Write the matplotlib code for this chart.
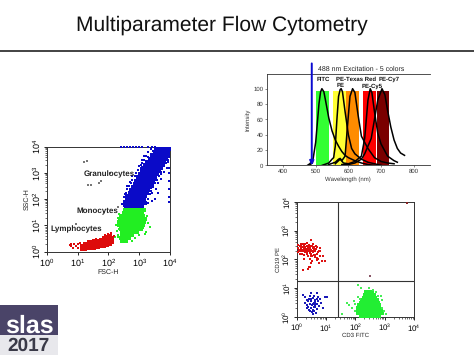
import matplotlib
matplotlib.use("Agg")
import matplotlib.pyplot as plt
from matplotlib.patches import Rectangle

FIG_W = 474
FIG_H = 355

plt.rcParams["font.family"] = ["Liberation Sans", "DejaVu Sans"]
plt.rcParams["mathtext.fontset"] = "custom"
plt.rcParams["mathtext.rm"] = "Liberation Sans"
plt.rcParams["text.hinting"] = "none"
plt.rcParams["text.hinting_factor"] = 1

# scatter values are log10 positions
gran_rows = [
    (1.75, [2.56, 2.68, 2.79, 2.9, 3.0, 3.1]),
    (1.87, [2.55, 2.66, 2.78, 2.88, 2.99, 3.1, 3.19]),
    (1.99, [2.62, 2.73, 2.85, 2.96, 3.07, 3.17]),
    (2.11, [2.62, 2.74, 2.86, 2.97, 3.08, 3.2]),
    (2.23, [2.7, 2.8, 2.92, 3.03, 3.14, 3.25]),
    (2.35, [2.74, 2.86, 2.97, 3.09, 3.2, 3.3]),
    (2.47, [2.8, 2.92, 3.03, 3.14, 3.25, 3.36]),
    (2.59, [2.85, 2.97, 3.08, 3.19, 3.3, 3.41]),
    (2.71, [2.9, 3.02, 3.13, 3.24, 3.35, 3.46]),
    (2.83, [2.97, 3.08, 3.19, 3.3, 3.41, 3.52]),
    (2.95, [3.03, 3.14, 3.25, 3.36, 3.47, 3.58]),
    (3.07, [3.08, 3.2, 3.31, 3.42, 3.53, 3.63]),
    (3.19, [3.14, 3.26, 3.37, 3.48, 3.59, 3.7]),
    (3.31, [3.2, 3.32, 3.43, 3.54, 3.65, 3.76]),
    (3.43, [3.26, 3.38, 3.49, 3.6, 3.71, 3.82]),
    (3.55, [3.35, 3.46, 3.57, 3.68, 3.79, 3.88]),
    (3.67, [3.42, 3.53, 3.64, 3.75, 3.86, 3.93]),
    (3.79, [3.5, 3.62, 3.73, 3.84, 3.94]),
    (3.91, [3.55, 3.68, 3.79, 3.88, 3.96]),
]
gran_edge_x = [2.45, 2.5, 2.52, 2.58, 2.62, 2.68, 2.72, 2.78, 2.85, 2.9, 2.95, 3.0, 3.08, 3.15, 3.22, 3.3, 3.38, 3.45,
               3.28, 3.05, 2.58, 2.5,
               3.28, 3.3, 3.34, 3.38, 3.45, 3.52, 3.58, 3.65, 3.72, 3.75, 3.82, 3.86, 3.92, 3.96, 3.98,
               3.42, 3.62, 3.7, 3.8, 3.9]
gran_edge_y = [1.8, 1.95, 2.1, 2.25, 2.38, 2.5, 2.62, 2.75, 2.88, 3.0, 3.12, 3.25, 3.38, 3.5, 3.65, 3.78, 3.9, 3.85,
               3.6, 3.3, 2.05, 1.75,
               1.85, 2.02, 2.2, 2.32, 2.45, 2.6, 2.72, 2.88, 3.02, 3.15, 3.25, 3.38, 3.5, 3.62, 3.78,
               2.25, 2.6, 2.78, 3.05, 3.2]
gran_extra_x = [2.55, 2.62, 2.7, 2.78, 3.55, 3.6, 3.5, 3.4, 3.55, 3.7, 3.95, 3.1, 3.05, 2.9, 3.15,
                2.4, 2.5, 2.6, 2.7, 2.8, 2.9, 3.0, 3.1, 3.3, 3.4, 3.5,
                3.98, 3.98, 3.98, 3.98, 3.98, 3.98]
gran_extra_y = [2.2, 2.5, 2.65, 2.9, 2.4, 2.25, 2.0, 1.95, 2.75, 2.95, 3.4, 3.5, 3.2, 3.0, 3.65,
                3.98, 3.98, 3.98, 3.98, 3.98, 3.98, 3.98, 3.98, 3.98, 3.98, 3.98,
                3.2, 3.0, 2.7, 2.4, 2.1, 1.9]

mono_rows = [
    (1.6, [2.55, 2.67, 2.8, 2.92, 3.04, 3.15]),
    (1.48, [2.5, 2.62, 2.74, 2.86, 2.98, 3.1]),
    (1.36, [2.42, 2.54, 2.66, 2.78, 2.9, 3.02, 3.14]),
    (1.24, [2.38, 2.5, 2.62, 2.74, 2.86, 2.98, 3.1, 3.2]),
    (1.12, [2.34, 2.46, 2.58, 2.7, 2.82, 2.94, 3.06, 3.16]),
    (1.0, [2.34, 2.46, 2.58, 2.7, 2.82, 2.94, 3.06, 3.14]),
    (0.88, [2.42, 2.54, 2.66, 2.78, 2.9, 3.02]),
    (0.76, [2.44, 2.56, 2.68, 2.8, 2.92]),
    (0.64, [2.44, 2.56, 2.68, 2.78]),
    (0.52, [2.42, 2.54, 2.66]),
    (0.42, [2.44, 2.56]),
]
mono_extra_x = [2.25, 2.28, 3.3, 3.35, 3.25, 3.22, 2.3, 2.32, 2.78, 3.0, 2.2, 2.36, 2.3, 2.34, 3.08, 3.12, 3.18, 2.86]
mono_extra_y = [1.0, 0.8, 1.1, 0.95, 1.35, 0.75, 0.62, 0.55, 0.42, 0.62, 0.55, 1.42, 1.28, 0.86, 0.82, 0.9, 0.68, 0.54]

lymph_columns = [
    (1.15, [0.12, 0.22]),
    (1.25, [0.12, 0.2, 0.28]),
    (1.35, [0.14, 0.22, 0.3]),
    (1.45, [0.14, 0.22, 0.3, 0.36]),
    (1.55, [0.16, 0.24, 0.32, 0.4]),
    (1.65, [0.18, 0.26, 0.34, 0.42]),
    (1.75, [0.2, 0.28, 0.36, 0.44]),
    (1.85, [0.22, 0.3, 0.38, 0.46, 0.52]),
    (1.95, [0.26, 0.34, 0.42, 0.5, 0.56]),
    (2.05, [0.3, 0.38, 0.46, 0.54, 0.6]),
    (2.13, [0.36, 0.44, 0.52]),
]
lymph_extra_x = [0.78, 0.8, 0.85, 0.9, 0.95, 1.0, 1.02, 1.08, 1.1, 1.35, 1.6, 1.9, 2.0, 2.1, 2.18, 0.75]
lymph_extra_y = [0.2, 0.28, 0.15, 0.3, 0.22, 0.3, 0.15, 0.34, 0.1, 0.42, 0.5, 0.62, 0.68, 0.72, 0.6, 0.24]

stray_x = [1.2, 1.3, 1.35, 1.45, 1.7, 1.75, 1.85, 0.95, 2.3, 2.05]
stray_y = [3.4, 3.45, 2.55, 2.55, 2.6, 2.7, 1.5, 1.05, 1.7, 3.0]

# CD3 / CD19 plot
cd19_x = [0.05, 0.1, 0.12, 0.15, 0.18, 0.2, 0.22, 0.25, 0.28, 0.3, 0.32, 0.34, 0.36, 0.38, 0.4, 0.42, 0.44,
          0.46, 0.48, 0.5, 0.52, 0.54, 0.56, 0.58, 0.6, 0.62, 0.64, 0.66, 0.68, 0.7, 0.72, 0.75, 0.78, 0.8,
          0.04, 0.08, 0.14, 0.2, 0.26, 0.3, 0.36, 0.4, 0.46, 0.5, 0.55, 0.6, 0.66, 0.72, 0.8, 0.9,
          0.06, 0.12, 0.18, 0.24, 0.3, 0.34, 0.42, 0.48, 0.52, 0.58, 0.64, 0.7, 0.25, 0.38, 0.44, 0.52,
          0.48, 0.68, 0.77, 0.85, 0.95, 0.42, 0.2, 0.38, 0.47, 0.5,
          0.1, 0.16, 0.22, 0.28, 0.34, 0.4, 0.46, 0.52, 0.58, 0.16, 0.24, 0.32, 0.44, 0.56]
cd19_y = [2.4, 2.48, 2.3, 2.52, 2.2, 2.42, 2.34, 2.5, 2.26, 2.44, 2.36, 2.56, 2.18, 2.4, 2.3, 2.5, 2.22,
          2.42, 2.12, 2.34, 2.46, 2.26, 2.38, 2.16, 2.44, 2.28, 2.08, 2.36, 2.2, 2.42, 2.02, 2.3, 2.12, 2.4,
          2.24, 2.34, 2.42, 2.54, 2.36, 2.3, 2.48, 2.42, 2.3, 2.18, 2.52, 2.34, 2.46, 2.24, 2.28, 2.1,
          2.5, 2.2, 2.3, 2.16, 2.54, 2.22, 2.36, 2.48, 2.1, 2.3, 2.16, 2.04, 2.02, 2.1, 2.02, 1.96,
          1.86, 1.98, 1.88, 1.96, 1.94, 1.72, 1.62, 1.66, 1.72, 2.66,
          2.28, 2.36, 2.28, 2.42, 2.3, 2.36, 2.38, 2.28, 2.36, 2.46, 2.42, 2.36, 2.44, 2.42]
cd4_x = [0.22, 0.28, 0.3, 0.34, 0.36, 0.38, 0.4, 0.42, 0.44, 0.46, 0.48, 0.5, 0.52, 0.54, 0.56, 0.58, 0.6,
         0.62, 0.64, 0.66, 0.68, 0.7, 0.72, 0.74, 0.76, 0.8, 0.84, 0.88, 0.96, 1.05, 0.45, 0.52, 0.6, 0.66,
         0.36, 0.42, 0.5, 0.56, 0.62, 0.7, 0.48, 0.58, 0.68, 0.54, 0.62]
cd4_y = [0.78, 0.7, 0.5, 0.6, 0.42, 0.54, 0.36, 0.62, 0.46, 0.72, 0.3, 0.56, 0.4, 0.66, 0.24, 0.5, 0.74,
         0.34, 0.6, 0.44, 0.82, 0.28, 0.54, 0.7, 0.38, 0.62, 0.48, 0.3, 0.7, 0.68, 0.2, 0.18, 0.22, 0.14,
         0.3, 0.26, 0.84, 0.44, 0.52, 0.46, 0.64, 0.34, 0.62, 0.12, 0.42]
cd3_rows = [
    (0.05, [2.2, 2.3, 2.4, 2.5, 2.6, 2.7, 2.8]),
    (0.13, [2.1, 2.2, 2.3, 2.4, 2.5, 2.6, 2.7, 2.8, 2.9]),
    (0.22, [2.08, 2.18, 2.28, 2.38, 2.48, 2.58, 2.68, 2.78, 2.88]),
    (0.31, [2.1, 2.2, 2.3, 2.4, 2.5, 2.6, 2.7, 2.8]),
    (0.4, [2.12, 2.22, 2.32, 2.42, 2.52, 2.62, 2.72, 2.82]),
    (0.49, [2.18, 2.28, 2.38, 2.48, 2.58, 2.68, 2.78]),
    (0.58, [2.24, 2.34, 2.44, 2.54, 2.64, 2.74]),
    (0.67, [2.28, 2.38, 2.48, 2.58, 2.68]),
    (0.76, [2.32, 2.42, 2.52, 2.62]),
    (0.85, [2.36, 2.46, 2.56]),
]
cd3_extra_x = [1.53, 1.7, 1.8, 1.88, 1.95, 2.0, 1.98, 2.92, 2.98, 3.05, 2.9, 2.86, 2.1, 2.16, 2.7, 2.78, 2.2, 2.08, 2.45, 2.6]
cd3_extra_y = [0.12, 0.5, 0.42, 0.3, 0.55, 0.44, 0.2, 0.3, 0.2, 0.1, 0.6, 0.72, 0.7, 0.62, 0.85, 0.72, 1.02, 1.1, 1.02, 0.95]
corner_x = [3.75]
corner_y = [3.97]
middle_x = [2.5]
middle_y = [1.42]

gate_x = 1.42
gate_y = 1.26

# emission spectra
bar_left = [502, 553, 592, 645, 687]
bar_right = [541, 592, 633, 684, 725]
bar_top = 97
bar_colors = ["#33ff33", "#ffff33", "#ff8c00", "#ff0000", "#7a0000"]

fitc_nm = [480, 490, 500, 505, 510, 515, 519, 525, 530, 540, 550, 560, 570, 580, 590, 600, 620, 640, 660, 680]
fitc_int = [0, 3, 30, 55, 80, 96, 100, 96, 85, 62, 45, 33, 25, 18, 13, 10, 6, 3, 1, 0]
pe_nm = [520, 540, 550, 555, 560, 565, 570, 575, 578, 582, 590, 600, 610, 620, 640, 660, 680, 700]
pe_int = [0, 3, 8, 10, 25, 60, 90, 99, 100, 96, 70, 40, 22, 15, 8, 4, 2, 0]
texas_nm = [540, 560, 570, 575, 580, 590, 600, 605, 613, 620, 630, 640, 650, 660, 680, 700, 720, 740]
texas_int = [1, 4, 8, 9, 6, 12, 65, 90, 100, 95, 65, 38, 30, 22, 10, 5, 3, 2]
cy5_nm = [560, 575, 585, 600, 620, 640, 650, 655, 660, 667, 672, 680, 690, 700, 720, 740, 750]
cy5_int = [2, 8, 3, 2, 5, 12, 35, 60, 85, 100, 95, 70, 42, 28, 12, 6, 4]
cy7_nm = [580, 600, 620, 640, 650, 660, 670, 680, 690, 703, 712, 720, 730, 740, 750, 760, 772]
cy7_int = [1, 1, 3, 8, 15, 25, 35, 60, 85, 100, 92, 72, 50, 33, 22, 16, 13]
excite_nm = [475, 482, 490]
excite_int = [0, 2, 6]
laser_nm = 488

wave_ticks = [400, 500, 600, 700, 800]
int_ticks = [0, 20, 40, 60, 80, 100]
log_ticks = [1, 10, 100, 1000, 10000]
log_labels = ["$10^{0}$", "$10^{1}$", "$10^{2}$", "$10^{3}$", "$10^{4}$"]


def px_axes(fig, left, top, right, bottom):
    return fig.add_axes([left / FIG_W, 1 - bottom / FIG_H, (right - left) / FIG_W, (bottom - top) / FIG_H])


def fig_text(fig, x, y, text, **kwargs):
    fig.text(x / FIG_W, 1 - y / FIG_H, text, **kwargs)


def flatten_rows(rows):
    xs, ys = [], []
    for y, row in rows:
        xs += row
        ys += [y] * len(row)
    return xs, ys


def flatten_columns(columns):
    xs, ys = [], []
    for x, column in columns:
        xs += [x] * len(column)
        ys += column
    return xs, ys


def draw_points(ax, xs, ys, color, size):
    ax.scatter([10**v for v in xs], [10**v for v in ys], s=size, c=color, marker="s", linewidths=0,
               clip_on=False, zorder=3)


def style_log_axes(ax, xlabel, ylabel, labelsize, fontsize):
    ax.set_xscale("log")
    ax.set_yscale("log")
    ax.set_xlim(1, 10000)
    ax.set_ylim(1, 10000)
    ax.set_xticks(log_ticks, log_labels)
    ax.set_yticks(log_ticks, log_labels)
    ax.tick_params(axis="both", which="major", labelsize=labelsize, length=2.5, width=0.6, pad=1)
    ax.tick_params(axis="both", which="minor", length=1.3, width=0.4)
    ax.tick_params(axis="y", labelrotation=90)
    for label in ax.get_yticklabels():
        label.set_va("center")
    ax.set_xlabel(xlabel, fontsize=fontsize, labelpad=0, color="#222222")
    ax.set_ylabel(ylabel, fontsize=fontsize, labelpad=0, color="#222222")
    for spine in ax.spines.values():
        spine.set_linewidth(0.7)
        spine.set_color("#333333")


fig = plt.figure(figsize=(FIG_W / 100, FIG_H / 100), dpi=100, facecolor="white")

# heading and logo
fig_text(fig, 76, 25, "Multiparameter Flow Cytometry", fontsize=15, color="#111111", ha="left", va="center")
fig.add_artist(plt.Line2D([0, 1], [1 - 51 / FIG_H, 1 - 51 / FIG_H], color="#222222", linewidth=1.2))
fig.add_artist(Rectangle((0, 0), 58 / FIG_W, 50 / FIG_H, transform=fig.transFigure, facecolor="#4a4468", edgecolor="none"))
fig.add_artist(Rectangle((0, 0), 58 / FIG_W, 20 / FIG_H, transform=fig.transFigure, facecolor="#e8e8ec", edgecolor="none"))
fig_text(fig, 5, 333, "slas", fontsize=18, fontweight="bold", color="white", ha="left", va="baseline", zorder=5)
fig_text(fig, 7, 351, "2017", fontsize=13.5, fontweight="bold", color="#3a3a48", ha="left", va="baseline", zorder=5)

# side scatter plot
ax_ssc = px_axes(fig, 46.7, 146.7, 170, 251.7)
style_log_axes(ax_ssc, "FSC-H", "SSC-H", 6.5, 5)
draw_points(ax_ssc, stray_x, stray_y, "#777777", 1)
gran_x, gran_y = flatten_rows(gran_rows)
draw_points(ax_ssc, gran_x, gran_y, "#0a0ac8", 9)
draw_points(ax_ssc, gran_edge_x, gran_edge_y, "#0a0ac8", 4.5)
draw_points(ax_ssc, gran_extra_x, gran_extra_y, "#0a0ac8", 2.5)
mono_x, mono_y = flatten_rows(mono_rows)
draw_points(ax_ssc, mono_x, mono_y, "#22ee22", 9)
draw_points(ax_ssc, mono_extra_x, mono_extra_y, "#22ee22", 3)
lymph_x, lymph_y = flatten_columns(lymph_columns)
draw_points(ax_ssc, lymph_x, lymph_y, "#dd0b0b", 8)
draw_points(ax_ssc, lymph_extra_x, lymph_extra_y, "#dd0b0b", 3)
fig_text(fig, 84, 174, "Granulocytes", fontsize=5.8, fontweight="bold", color="#222222", ha="left", va="center", zorder=6)
fig_text(fig, 76.7, 211.7, "Monocytes", fontsize=5.8, fontweight="bold", color="#222222", ha="left", va="center", zorder=6)
fig_text(fig, 50, 229.7, "Lymphocytes", fontsize=5.8, fontweight="bold", color="#222222", ha="left", va="center", zorder=6)

# quadrant plot
ax_cd = px_axes(fig, 296.7, 201.7, 414, 317)
style_log_axes(ax_cd, "CD3 FITC", "CD19 PE", 5.5, 4.2)
ax_cd.axvline(10**gate_x, color="#333333", linewidth=0.8)
ax_cd.axhline(10**gate_y, color="#333333", linewidth=0.8)
draw_points(ax_cd, cd19_x, cd19_y, "#dd1111", 3.2)
draw_points(ax_cd, cd4_x, cd4_y, "#1a1ab8", 2.2)
cd3_x, cd3_y = flatten_rows(cd3_rows)
draw_points(ax_cd, cd3_x, cd3_y, "#22ee33", 9)
draw_points(ax_cd, cd3_extra_x, cd3_extra_y, "#44ee55", 2.5)
draw_points(ax_cd, corner_x, corner_y, "#882222", 2)
draw_points(ax_cd, middle_x, middle_y, "#885566", 2)

# emission spectra plot
ax_sp = px_axes(fig, 266.7, 74.3, 430, 165.3)
ax_sp.set_xlim(350, 850)
ax_sp.set_ylim(0, 118.8)
ax_sp.bar(bar_left, bar_top, width=[r - l for l, r in zip(bar_left, bar_right)], align="edge", color=bar_colors, zorder=1)
for nm, intensity in [(fitc_nm, fitc_int), (pe_nm, pe_int), (texas_nm, texas_int), (cy5_nm, cy5_int), (cy7_nm, cy7_int), (excite_nm, excite_int)]:
    ax_sp.plot(nm, intensity, color="black", linewidth=1.1, zorder=2)
ax_sp.annotate("", xy=(laser_nm, 0), xytext=(laser_nm, 133), annotation_clip=False, zorder=4,
               arrowprops={"arrowstyle": "-|>", "color": "#0a0ad0", "linewidth": 1.4, "mutation_scale": 6, "shrinkA": 0, "shrinkB": 0})
ax_sp.set_xticks(wave_ticks)
ax_sp.set_yticks(int_ticks)
ax_sp.tick_params(axis="both", labelsize=4, length=1.5, width=0.4, pad=1, colors="#333333")
ax_sp.set_xlabel("Wavelength (nm)", fontsize=4.5, labelpad=1.5, color="#333333")
ax_sp.set_ylabel("Intensity", fontsize=4.5, labelpad=2, color="#333333")
ax_sp.spines["right"].set_visible(False)
for name in ("top", "left", "bottom"):
    ax_sp.spines[name].set_linewidth(0.6)
    ax_sp.spines[name].set_color("#333333")
fig_text(fig, 317.7, 68.7, "488 nm Excitation - 5 colors", fontsize=5.4, color="#222222", ha="left", va="center")
fig_text(fig, 317, 79.5, "FITC", fontsize=4.2, fontweight="bold", color="#111111", ha="left", va="center")
fig_text(fig, 336, 79.5, "PE-Texas Red", fontsize=4.2, fontweight="bold", color="#111111", ha="left", va="center")
fig_text(fig, 337, 85.7, "PE", fontsize=4.2, fontweight="bold", color="#111111", ha="left", va="center")
fig_text(fig, 361.3, 86.7, "PE-Cy5", fontsize=4.2, fontweight="bold", color="#111111", ha="left", va="center")
fig_text(fig, 378.3, 79.5, "PE-Cy7", fontsize=4.2, fontweight="bold", color="#111111", ha="left", va="center")

fig.savefig("out.png", dpi=100, facecolor="white")
